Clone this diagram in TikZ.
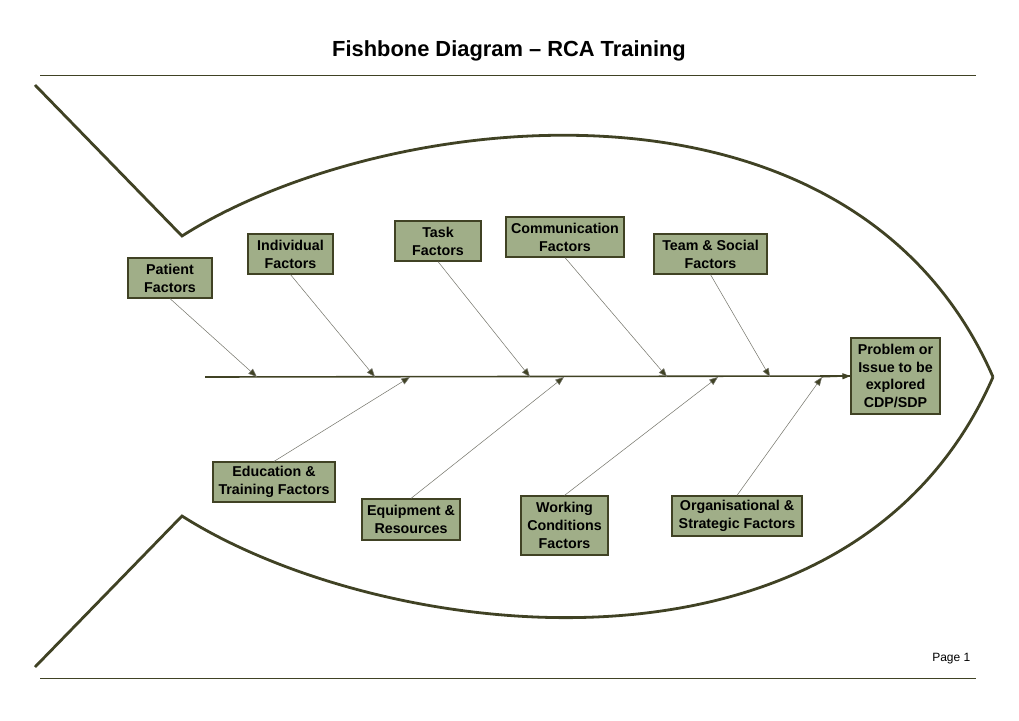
\documentclass[tikz,border=0pt]{standalone}
\usepackage{fontspec}
\setmainfont{Liberation Sans}
\usetikzlibrary{arrows.meta}
\definecolor{olive}{RGB}{64,66,36}
\definecolor{boxfill}{RGB}{160,174,136}
\definecolor{thin}{RGB}{120,120,110}
\begin{document}
\begin{tikzpicture}[x=0.75pt,y=-0.75pt,
  factor/.style={draw=olive,line width=0.9pt,fill=boxfill,inner sep=0pt,align=center,
    font=\fontsize{10.7}{13.4}\selectfont\bfseries,minimum height=30pt},
  bone/.style={draw=thin,line width=0.4pt,-{Triangle[length=6.5pt,width=5pt,fill=olive]},color=thin},
  fish/.style={draw=olive,line width=2.1pt,line join=miter},
  rule/.style={draw=olive,line width=0.7pt}]
\useasboundingbox (0,0) rectangle (1019,720);
% title and rules
\node[font=\fontsize{16.4}{19}\selectfont\bfseries] (title) at (509,51) {Fishbone Diagram -- RCA Training};
\coordinate (tl) at (40,75); \coordinate (tr) at (976,75);
\coordinate (bl) at (40,678); \coordinate (br) at (976,678);
\draw[rule] (tl) -- (tr);
\draw[rule] (bl) -- (br);
\node[font=\fontsize{9}{11}\selectfont,anchor=east] (page) at (975,659) {Page 1};
% fish outline
\coordinate (tailtop) at (35,85);
\coordinate (tailbot) at (35,667);
\coordinate (nt) at (182,236);
\coordinate (nb) at (182,516);
\coordinate (tip) at (993,377);
\draw[fish] (tailtop) -- (nt) .. controls (380,110) and (850,50) .. (tip);
\draw[fish] (tailbot) -- (nb) .. controls (380,642) and (850,704) .. (tip);
% problem box
\node[factor,minimum width=66.75pt,minimum height=57pt] (prob) at (895.5,376) {Problem or\\Issue to be\\explored\\CDP/SDP};
% spine
\coordinate (sstart) at (205,377);
\draw[draw=olive,line width=1.2pt] (sstart) -- (prob.west);
\coordinate (sp1) at (257,377);
\coordinate (sp2) at (375,377);
\coordinate (sp3) at (530,377);
\coordinate (sp4) at (667,377);
\coordinate (sp5) at (770,377);
\coordinate (sq1) at (410,377);
\coordinate (sq2) at (564,377);
\coordinate (sq3) at (718,377);
\coordinate (sq4) at (822,377);
\draw[draw=olive,line width=0.8pt,-{Triangle[length=6pt,width=4.5pt]}] (822,377) -- (prob.west);
% top factors
\node[factor,minimum width=63pt] (pat) at (170,278) {Patient\\Factors};
\node[factor,minimum width=63.75pt] (ind) at (290.5,254) {Individual\\Factors};
\node[factor,minimum width=64.5pt] (task) at (438,241) {Task\\Factors};
\node[factor,minimum width=88.5pt] (comm) at (565,237) {Communication\\Factors};
\node[factor,minimum width=84.75pt] (team) at (710.5,254) {Team \& Social\\Factors};
% bottom factors
\node[factor,minimum width=91.5pt] (edu) at (274,482) {Education \&\\Training Factors};
\node[factor,minimum width=73.5pt,minimum height=30.75pt] (equip) at (411,519.5) {Equipment \&\\Resources};
\node[factor,minimum width=65.25pt,minimum height=44.25pt] (work) at (564.5,525.5) {Working\\Conditions\\Factors};
\node[factor,minimum width=97.5pt] (org) at (737,516) {Organisational \&\\Strategic Factors};
% bones
\draw[bone] (pat.south) -- (sp1);
\draw[bone] (ind.south) -- (sp2);
\draw[bone] (task.south) -- (sp3);
\draw[bone] (comm.south) -- (sp4);
\draw[bone] (team.south) -- (sp5);
\draw[bone] (edu.north) -- (sq1);
\draw[bone] (equip.north) -- (sq2);
\draw[bone] (work.north) -- (sq3);
\draw[bone] (org.north) -- (sq4);
\end{tikzpicture}
\end{document}
